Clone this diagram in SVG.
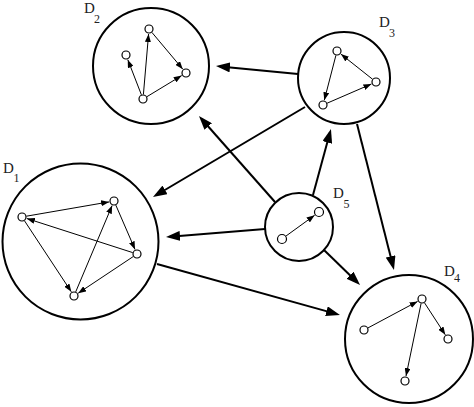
<svg xmlns="http://www.w3.org/2000/svg" width="474" height="407" viewBox="0 0 474 407">
<style>
.cl{fill:none;stroke:#000;stroke-width:2}
.nd{fill:#fff;stroke:#000;stroke-width:1.2}
.big{stroke:#000;stroke-width:2;fill:none;marker-end:url(#ab)}
.sm{stroke:#000;stroke-width:1;fill:none;marker-end:url(#as)}
.lb{font-family:"Liberation Serif","Times New Roman",serif;font-size:15px;fill:#222}
.sb{font-size:12px}
</style>
<defs>
<marker id="ab" viewBox="0 0 14 10" refX="10" refY="5" markerWidth="14" markerHeight="10" markerUnits="userSpaceOnUse" orient="auto"><path d="M0,0 L14,5 L0,10 z" fill="#000"/></marker>
<marker id="as" viewBox="0 0 8 6" refX="8" refY="3" markerWidth="8" markerHeight="6" markerUnits="userSpaceOnUse" orient="auto"><path d="M0,0 L8,3 L0,6 z" fill="#000"/></marker>
</defs>
<rect width="474" height="407" fill="#fff"/>
<g id="connectors">
<line class="big" x1="298" y1="74" x2="220" y2="66.4"/>
<line class="big" x1="275" y1="202" x2="201.6" y2="119"/>
<line class="big" x1="305" y1="107" x2="156.4" y2="195"/>
<line class="big" x1="313" y1="195" x2="329.9" y2="132.8"/>
<line class="big" x1="265" y1="229" x2="170" y2="236.7"/>
<line class="big" x1="157" y1="264" x2="336.1" y2="313.9"/>
<line class="big" x1="324" y1="250" x2="357.2" y2="282.2"/>
<line class="big" x1="357" y1="124" x2="393" y2="266.1"/>
<line class="sm" x1="26.4" y1="216.2" x2="109.1" y2="201.9"/>
<line class="sm" x1="115.8" y1="205.1" x2="135" y2="249.4"/>
<line class="sm" x1="132.7" y1="252.6" x2="26.8" y2="218.5"/>
<line class="sm" x1="24.5" y1="220.8" x2="71.3" y2="291.8"/>
<line class="sm" x1="75.7" y1="291.9" x2="112.1" y2="205.6"/>
<line class="sm" x1="133.3" y1="256.5" x2="78.2" y2="293.2"/>
<line class="sm" x1="141.4" y1="94.8" x2="127.8" y2="59.7"/>
<line class="sm" x1="143.4" y1="94.5" x2="148.6" y2="34"/>
<line class="sm" x1="151.9" y1="32.4" x2="182.8" y2="69.2"/>
<line class="sm" x1="146.9" y1="96.7" x2="181.7" y2="75.6"/>
<line class="sm" x1="335.9" y1="55.4" x2="324.3" y2="100.2"/>
<line class="sm" x1="372.5" y1="79.2" x2="340.9" y2="54.1"/>
<line class="sm" x1="327.1" y1="103.2" x2="371.4" y2="84"/>
<line class="sm" x1="368" y1="327.9" x2="417.6" y2="301.4"/>
<line class="sm" x1="424.5" y1="302.8" x2="445.3" y2="334.8"/>
<line class="sm" x1="421.1" y1="303.4" x2="406" y2="376.1"/>
<line class="sm" x1="285.9" y1="236.1" x2="314.6" y2="215.3"/>
</g>
<g id="D1">
<circle class="cl" cx="80.5" cy="241.5" r="78"/>
<circle class="nd" cx="22" cy="217" r="4"/>
<circle class="nd" cx="114" cy="201" r="4"/>
<circle class="nd" cx="137" cy="254" r="4"/>
<circle class="nd" cx="74" cy="296" r="4"/>
<text class="lb" x="3" y="173">D<tspan class="sb" x="13.5" y="182">1</tspan></text>
</g>
<g id="D2">
<circle class="cl" cx="151" cy="66" r="58"/>
<circle class="nd" cx="149" cy="29" r="4"/>
<circle class="nd" cx="126" cy="55" r="4"/>
<circle class="nd" cx="186" cy="73" r="4"/>
<circle class="nd" cx="143" cy="99" r="4"/>
<text class="lb" x="84" y="13">D<tspan class="sb" x="94" y="23">2</tspan></text>
</g>
<g id="D3">
<circle class="cl" cx="344" cy="78" r="46"/>
<circle class="nd" cx="337" cy="51" r="4"/>
<circle class="nd" cx="376" cy="82" r="4"/>
<circle class="nd" cx="323" cy="105" r="4"/>
<text class="lb" x="379" y="27">D<tspan class="sb" x="389" y="37">3</tspan></text>
</g>
<g id="D4">
<circle class="cl" cx="409" cy="339" r="64"/>
<circle class="nd" cx="422" cy="299" r="4"/>
<circle class="nd" cx="364" cy="330" r="4"/>
<circle class="nd" cx="448" cy="339" r="4"/>
<circle class="nd" cx="405" cy="381" r="4"/>
<text class="lb" x="444" y="276">D<tspan class="sb" x="454" y="282">4</tspan></text>
</g>
<g id="D5">
<circle class="cl" cx="299" cy="227" r="34"/>
<circle class="nd" cx="319" cy="212" r="4.5"/>
<circle class="nd" cx="282" cy="239" r="4.5"/>
<text class="lb" x="333" y="198">D<tspan class="sb" x="343.5" y="208">5</tspan></text>
</g>
</svg>
